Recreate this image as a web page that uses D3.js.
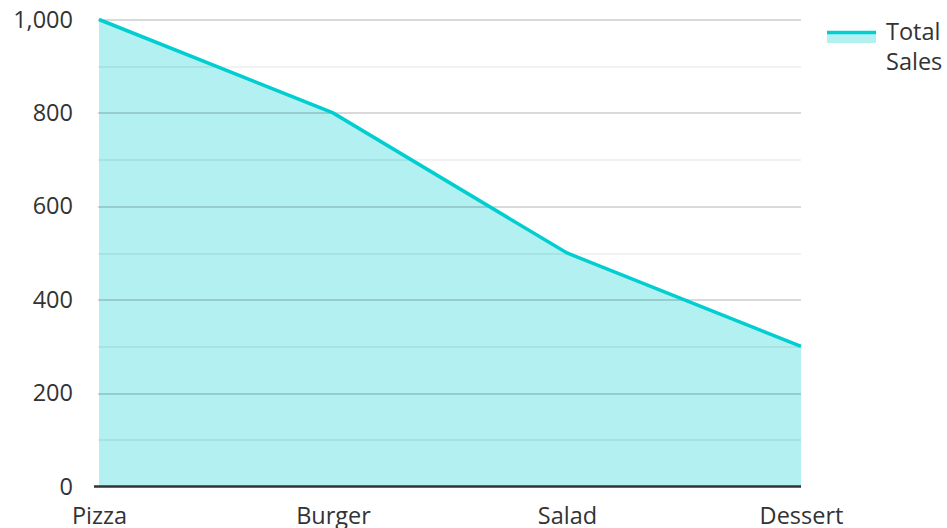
<!DOCTYPE html>
<html lang="en">
<head>
  <meta charset="utf-8" />
  <title>Total Sales</title>
  <script src="https://d3js.org/d3.v7.min.js"></script>
  <style>
    body { margin: 0; background: #ffffff; }
    text { font-family: "Open Sans", "Noto Sans", sans-serif; fill: #333333; }
  </style>
</head>
<body>
  <div id="graph"></div>
  <script>
    // chart data
    const categories = ["Pizza", "Burger", "Salad", "Dessert"];
    const totalSales = [1000, 800, 500, 300];
    const yTicks = [0, 200, 400, 600, 800, 1000];
    const yMinorTicks = [100, 300, 500, 700, 900];
    const seriesName = ["Total", "Sales"];

    const lineColor = "#00ced1";
    const fillColor = "rgba(0, 206, 209, 0.3)";
    const fontSize = "23.5px";

    const width = 947, height = 528;
    const margin = { top: 19.5, right: 146, bottom: 41.5, left: 99 };
    const innerW = width - margin.left - margin.right;
    const innerH = height - margin.top - margin.bottom;

    const data = categories.map((c, i) => ({ name: c, value: totalSales[i] }));

    const svg = d3.select("#graph")
      .append("svg")
      .attr("width", width)
      .attr("height", height);

    const g = svg.append("g")
      .attr("transform", `translate(${margin.left}, ${margin.top})`);

    const x = d3.scalePoint().domain(categories).range([0, innerW]);
    const y = d3.scaleLinear().domain([0, 1000]).range([innerH, 0]);

    // area under the line
    const area = d3.area()
      .x(d => x(d.name))
      .y0(y(0))
      .y1(d => y(d.value));

    g.append("path")
      .datum(data)
      .attr("d", area)
      .attr("fill", fillColor);

    // gridlines drawn over the fill
    g.append("g")
      .selectAll("line")
      .data(yMinorTicks)
      .join("line")
      .attr("x1", -1)
      .attr("x2", innerW)
      .attr("y1", d => Math.round(y(d)) + 0.5)
      .attr("y2", d => Math.round(y(d)) + 0.5)
      .attr("stroke", "rgba(0,0,0,0.07)")
      .attr("stroke-width", 1.5);

    g.append("g")
      .selectAll("line")
      .data(yTicks.filter(d => d > 0))
      .join("line")
      .attr("x1", -1)
      .attr("x2", innerW)
      .attr("y1", d => Math.round(y(d)) + 0.5)
      .attr("y2", d => Math.round(y(d)) + 0.5)
      .attr("stroke", "rgba(0,0,0,0.2)")
      .attr("stroke-width", 1.5);

    // the line
    const line = d3.line()
      .x(d => x(d.name))
      .y(d => y(d.value));

    g.append("path")
      .datum(data)
      .attr("d", line)
      .attr("fill", "none")
      .attr("stroke", lineColor)
      .attr("stroke-width", 3.5);

    // baseline
    g.append("line")
      .attr("x1", -5)
      .attr("x2", innerW)
      .attr("y1", y(0))
      .attr("y2", y(0))
      .attr("stroke", "#333333")
      .attr("stroke-width", 2.5);

    // y labels
    const yAxis = g.append("g")
      .call(d3.axisLeft(y).tickValues(yTicks).tickFormat(d3.format(",")).tickSize(0).tickPadding(26));
    yAxis.select(".domain").remove();
    yAxis.selectAll("text")
      .style("font-size", fontSize)
      .attr("fill", "#333333");

    // x labels
    const xAxis = g.append("g")
      .attr("transform", `translate(0, ${innerH})`)
      .call(d3.axisBottom(x).tickSize(0).tickPadding(21));
    xAxis.select(".domain").remove();
    xAxis.selectAll("text")
      .style("font-size", fontSize)
      .attr("fill", "#333333");

    // legend
    const legend = svg.append("g")
      .attr("transform", "translate(827, 31)");
    legend.append("rect")
      .attr("x", 0)
      .attr("y", 0)
      .attr("width", 49)
      .attr("height", 12)
      .attr("fill", fillColor);
    legend.append("line")
      .attr("x1", 0)
      .attr("x2", 49)
      .attr("y1", 1.5)
      .attr("y2", 1.5)
      .attr("stroke", lineColor)
      .attr("stroke-width", 3.5);
    legend.selectAll("text.lbl")
      .data(seriesName)
      .join("text")
      .attr("class", "lbl")
      .attr("x", 59)
      .attr("y", (d, i) => 9 + i * 30)
      .style("font-size", fontSize)
      .text(d => d);
  </script>
</body>
</html>
